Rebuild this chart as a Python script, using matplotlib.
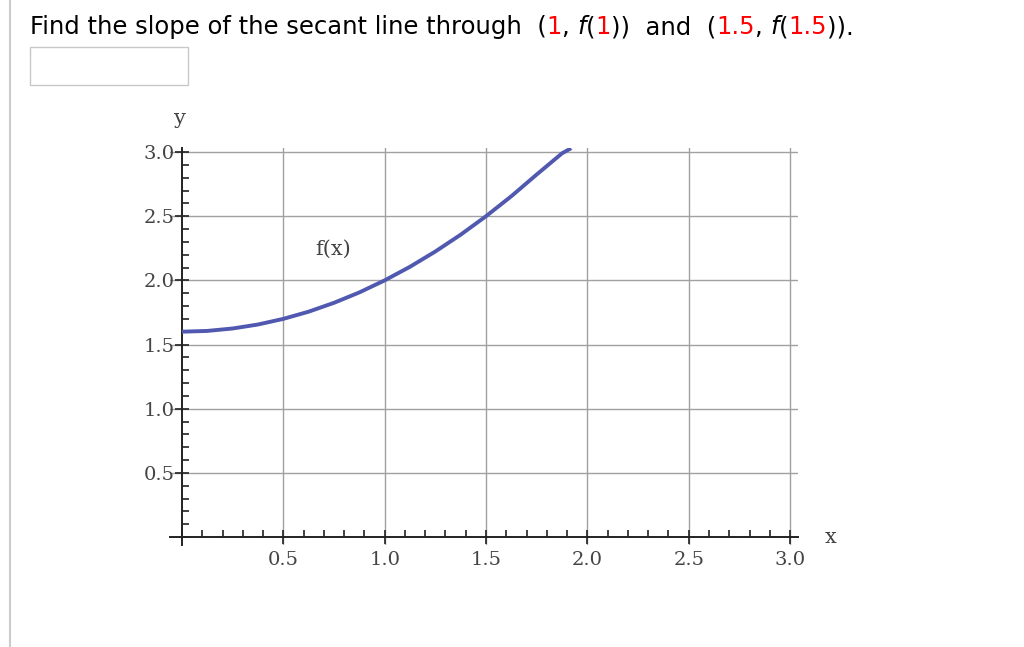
import matplotlib
matplotlib.use("Agg")
import matplotlib.pyplot as plt
from matplotlib.patches import Rectangle
from matplotlib.lines import Line2D
from matplotlib.ticker import MultipleLocator

# curve values
x_vals = [0.0, 0.125, 0.25, 0.375, 0.5, 0.625, 0.75, 0.875, 1.0,
          1.125, 1.25, 1.375, 1.5, 1.625, 1.75, 1.875, 1.92]
y_vals = [1.6, 1.606, 1.625, 1.656, 1.7, 1.756, 1.825, 1.906, 2.0,
          2.106, 2.225, 2.356, 2.5, 2.656, 2.825, 2.99, 3.03]
major_ticks = [0.5, 1.0, 1.5, 2.0, 2.5, 3.0]
title_parts = [("Find the slope of the secant line through  (", "black"),
               ("1", "red"), (", ", "black"), ("f", "black"), ("(", "black"),
               ("1", "red"), ("))  and  (", "black"), ("1.5", "red"),
               (", ", "black"), ("f", "black"), ("(", "black"),
               ("1.5", "red"), (")).", "black")]

W, H = 1024, 647
fig = plt.figure(figsize=(W / 100, H / 100), dpi=100)

# page decorations
fig.add_artist(Line2D([10 / W, 10 / W], [0, 1], transform=fig.transFigure,
                      color='#cccccc', linewidth=1.5))
fig.add_artist(Rectangle((30 / W, 1 - 85 / H), 158 / W, 38 / H,
                         transform=fig.transFigure, fc='white',
                         ec='#c8c8c8', linewidth=1.0))

# title assembled piece by piece so the numbers can be red
fig.canvas.draw()
renderer = fig.canvas.get_renderer()
xpos = 30 / W
for txt, col in title_parts:
    style = 'italic' if txt == 'f' else 'normal'
    t = fig.text(xpos, 1 - 27 / H, txt, color=col, fontsize=17.5,
                 fontstyle=style, va='center', ha='left',
                 family='DejaVu Sans')
    bb = t.get_window_extent(renderer)
    xpos += bb.width / W

# plot area
ax = fig.add_axes([169.8 / W, (H - 544.7) / H, 628.4 / W, 396.5 / H])
ax.set_xlim(-0.06, 3.04)
ax.set_ylim(-0.06, 3.03)

for v in major_ticks:
    ax.axvline(v, color='#a0a0a0', linewidth=1.0, zorder=1)
    ax.axhline(v, color='#a0a0a0', linewidth=1.0, zorder=1)

ax.plot(x_vals, y_vals, color='#5058b0', linewidth=2.8, zorder=3,
        solid_capstyle='butt')

for side in ['top', 'right']:
    ax.spines[side].set_visible(False)
ax.spines['left'].set_position(('data', 0))
ax.spines['bottom'].set_position(('data', 0))
for side in ['left', 'bottom']:
    ax.spines[side].set_color('#222222')
    ax.spines[side].set_linewidth(1.4)

ax.xaxis.set_major_locator(MultipleLocator(0.5))
ax.yaxis.set_major_locator(MultipleLocator(0.5))
ax.xaxis.set_minor_locator(MultipleLocator(0.1))
ax.yaxis.set_minor_locator(MultipleLocator(0.1))
ax.tick_params(which='major', direction='inout', length=10, width=1.2,
               color='#222222', labelsize=14, labelcolor='#444444')
ax.tick_params(which='minor', length=5, width=1.2, color='#222222')
ax.tick_params(axis='x', which='minor', direction='in')
ax.tick_params(axis='y', which='minor', direction='in')
ax.set_xticks(major_ticks)
ax.set_yticks(major_ticks)
ax.set_xticklabels([f'{v:.1f}' for v in major_ticks], family='DejaVu Serif')
ax.set_yticklabels([f'{v:.1f}' for v in major_ticks], family='DejaVu Serif')
ax.tick_params(axis='x', pad=5)
ax.tick_params(axis='y', pad=0)

ax.text(0.745, 2.24, 'f(x)', fontsize=15, family='DejaVu Serif',
        color='#444444', ha='center', va='center')
ax.text(-0.01, 3.26, 'y', fontsize=15, family='DejaVu Serif',
        color='#444444', ha='center', va='center', clip_on=False)
ax.text(3.2, 0.0, 'x', fontsize=15, family='DejaVu Serif',
        color='#444444', ha='center', va='center', clip_on=False)

fig.savefig('out.png', dpi=100)
